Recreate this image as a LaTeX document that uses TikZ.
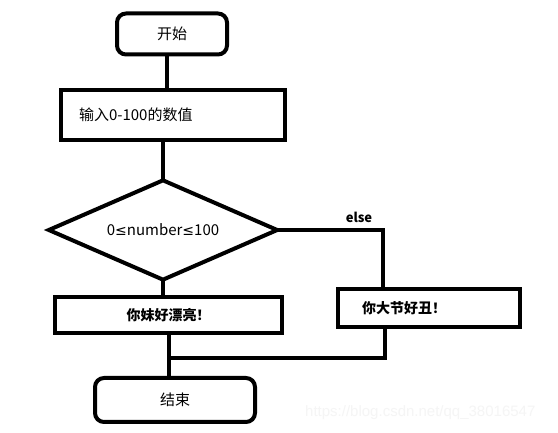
\documentclass[tikz,border=0pt]{standalone}
\usepackage{fontspec}
\setmainfont{Noto Sans CJK SC}
\newfontfamily\wmfont{Liberation Sans}
\newfontfamily\symfont{DejaVu Sans}
\usetikzlibrary{shapes.geometric}
\tikzset{
  ln/.style={line width=4pt},
  rbox/.style={draw, ln, rounded corners=9pt, inner sep=0pt, font=\fontsize{15}{17}\selectfont},
  pbox/.style={draw, ln, inner sep=0pt, font=\fontsize{15}{17}\selectfont},
  dbox/.style={draw, ln, diamond, aspect=2.28, inner sep=0pt, font=\fontsize{15}{17}\selectfont},
  conn/.style={ln, line cap=rect},
}
\begin{document}
\begin{tikzpicture}[x=1pt,y=-1pt]
\useasboundingbox (0,0) rectangle (558,433);
\fill[white] (0,0) rectangle (558,433);
\node[rbox, minimum width=110pt, minimum height=41pt] (start) at (172,34) {开始};
\node[pbox, minimum width=224pt, minimum height=50pt, text width=188pt, inner xsep=18pt, align=left] (input) at (173,115) {\raisebox{-4pt}{输入0-100的数值}};
\node[dbox, minimum width=230pt, minimum height=101pt] (diam) at (163,230) {0{\symfont\fontsize{14}{16}\selectfont ≤}number{\symfont\fontsize{14}{16}\selectfont ≤}100};
\node[pbox, minimum width=227pt, minimum height=36pt, font=\fontsize{14}{16}\selectfont\bfseries] (yes) at (168.5,315) {你妹好漂亮！};
\node[pbox, minimum width=182pt, minimum height=38pt, text width=134pt, inner xsep=24pt, align=left, font=\fontsize{14}{16}\selectfont\bfseries] (no) at (429,308) {你大节好丑！};
\node[rbox, minimum width=160pt, minimum height=44pt] (end) at (175,400) {结束};
\coordinate (jr) at (383,230);
\coordinate (jm) at (169,358);
\coordinate (jn) at (385,358);
\draw[conn] (start.south -| 167,0) -- (input.north -| 167,0);
\draw[conn] (input.south -| diam.north) -- (diam.north);
\draw[conn] (diam.east) -- (jr) -- (jr |- no.north);
\draw[conn] (diam.south) -- (yes.north -| diam.south);
\draw[conn] (yes.south -| jm) -- (end.north -| jm);
\draw[conn] (no.south -| jn) -- (jn) -- (jm);
\node[font=\fontsize{13}{15}\selectfont\bfseries] (elsel) at (359,217) {else};
\node[font=\wmfont\fontsize{15}{17}\selectfont, text=black!4, anchor=west, inner sep=0pt] (wm) at (305,413) {https://blog.csdn.net/qq\_38016547};
\end{tikzpicture}
\end{document}
